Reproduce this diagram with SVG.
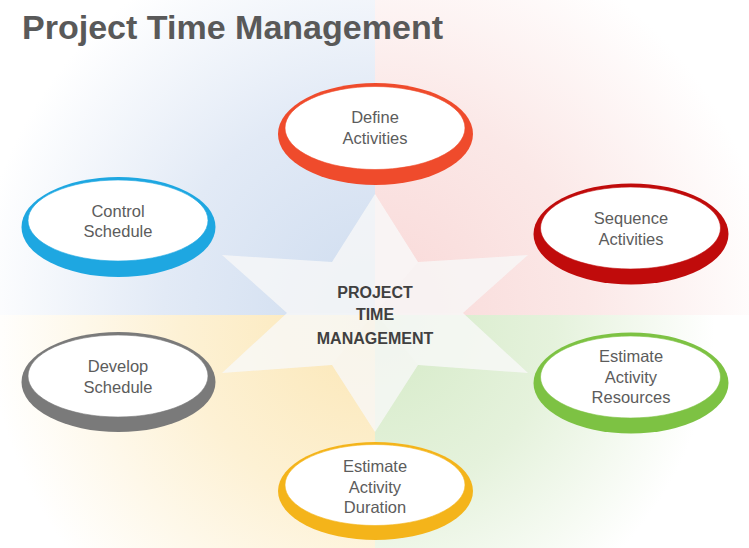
<svg xmlns="http://www.w3.org/2000/svg" width="749" height="548" viewBox="0 0 749 548">
<defs>
<radialGradient id="gBlue" cx="375" cy="315" r="470" gradientUnits="userSpaceOnUse">
<stop offset="0" stop-color="#cedcef"/><stop offset="0.45" stop-color="#e2eaf6"/><stop offset="0.85" stop-color="#ffffff"/>
</radialGradient>
<radialGradient id="gPink" cx="375" cy="315" r="470" gradientUnits="userSpaceOnUse">
<stop offset="0" stop-color="#f9d8d7"/><stop offset="0.45" stop-color="#fbe8e7"/><stop offset="0.85" stop-color="#ffffff"/>
</radialGradient>
<radialGradient id="gYellow" cx="375" cy="315" r="430" gradientUnits="userSpaceOnUse">
<stop offset="0" stop-color="#fbe6b4"/><stop offset="0.45" stop-color="#fdf1d4"/><stop offset="0.9" stop-color="#ffffff"/>
</radialGradient>
<radialGradient id="gGreen" cx="375" cy="315" r="400" gradientUnits="userSpaceOnUse">
<stop offset="0" stop-color="#d4eac6"/><stop offset="0.45" stop-color="#e5f2dc"/><stop offset="0.85" stop-color="#ffffff"/>
</radialGradient>
<style>
.title{font-family:"Liberation Sans",Arial,sans-serif;font-weight:bold;font-size:33px;fill:#595959}
.lbl{font-family:"Liberation Sans",Arial,sans-serif;font-size:16.5px;fill:#5c5c5c;text-anchor:middle}
.ctr{font-family:"Liberation Sans",Arial,sans-serif;font-weight:bold;font-size:16px;fill:#404040;text-anchor:middle}
.inner{fill:#ffffff;stroke-width:1;stroke-opacity:0.6}
</style>
</defs>
<g id="background">
<rect x="0" y="0" width="375" height="315" fill="url(#gBlue)"/>
<rect x="375" y="0" width="374" height="315" fill="url(#gPink)"/>
<rect x="0" y="315" width="375" height="233" fill="url(#gYellow)"/>
<rect x="375" y="315" width="374" height="233" fill="url(#gGreen)"/>
</g>
<text class="title" x="22" y="39" textLength="421" lengthAdjust="spacingAndGlyphs">Project Time Management</text>
<g id="connectors"></g>
<g id="star">
<polygon points="375,194 418,262 528,255 463,313 528,373 418,365 375,432 332,365 222,373 287,313 222,255 332,262" fill="#f7f7f7" fill-opacity="0.8"/>
<polygon points="375,194 418,262 375,313" fill="#ffffff" fill-opacity="0.15"/>
<polygon points="528,373 418,365 375,313 463,313" fill="#ffffff" fill-opacity="0.12"/>
<polygon points="222,373 287,313 375,313 332,365" fill="#ffffff" fill-opacity="0.1"/>
<text class="ctr" x="375" y="298">PROJECT</text>
<text class="ctr" x="375" y="320">TIME</text>
<text class="ctr" x="375" y="343.5">MANAGEMENT</text>
</g>
<g id="define-activities">
<ellipse cx="375.5" cy="134" rx="97.5" ry="51" fill="#ef4b2c"/>
<ellipse class="inner" cx="375" cy="128" rx="90" ry="41.5" stroke="#ef4b2c"/>
<text class="lbl" x="375" y="123">Define</text>
<text class="lbl" x="375" y="144">Activities</text>
</g>
<g id="sequence-activities">
<ellipse cx="631" cy="234" rx="97.5" ry="50.5" fill="#c00b0b"/>
<ellipse class="inner" cx="630.5" cy="228" rx="90" ry="41" stroke="#c00b0b"/>
<text class="lbl" x="631" y="223.5">Sequence</text>
<text class="lbl" x="631" y="244.5">Activities</text>
</g>
<g id="estimate-activity-resources">
<ellipse cx="631" cy="383" rx="97.5" ry="50.5" fill="#7dc243"/>
<ellipse class="inner" cx="630.5" cy="377" rx="90" ry="41" stroke="#7dc243"/>
<text class="lbl" x="631" y="362">Estimate</text>
<text class="lbl" x="631" y="382.5">Activity</text>
<text class="lbl" x="631" y="403">Resources</text>
</g>
<g id="estimate-activity-duration">
<ellipse cx="375.5" cy="491" rx="97.5" ry="49" fill="#f4b41a"/>
<ellipse class="inner" cx="375" cy="485" rx="90" ry="40.5" stroke="#f4b41a"/>
<text class="lbl" x="375" y="472">Estimate</text>
<text class="lbl" x="375" y="492.5">Activity</text>
<text class="lbl" x="375" y="513">Duration</text>
</g>
<g id="develop-schedule">
<ellipse cx="118.5" cy="382" rx="97" ry="50" fill="#7a7a7a"/>
<ellipse class="inner" cx="118" cy="376" rx="90" ry="41" stroke="#7a7a7a"/>
<text class="lbl" x="118" y="372">Develop</text>
<text class="lbl" x="118" y="392.5">Schedule</text>
</g>
<g id="control-schedule">
<ellipse cx="118.5" cy="227" rx="97" ry="50" fill="#1ea7e1"/>
<ellipse class="inner" cx="118" cy="220.5" rx="90" ry="40.5" stroke="#1ea7e1"/>
<text class="lbl" x="118" y="216.5">Control</text>
<text class="lbl" x="118" y="237">Schedule</text>
</g>
</svg>
